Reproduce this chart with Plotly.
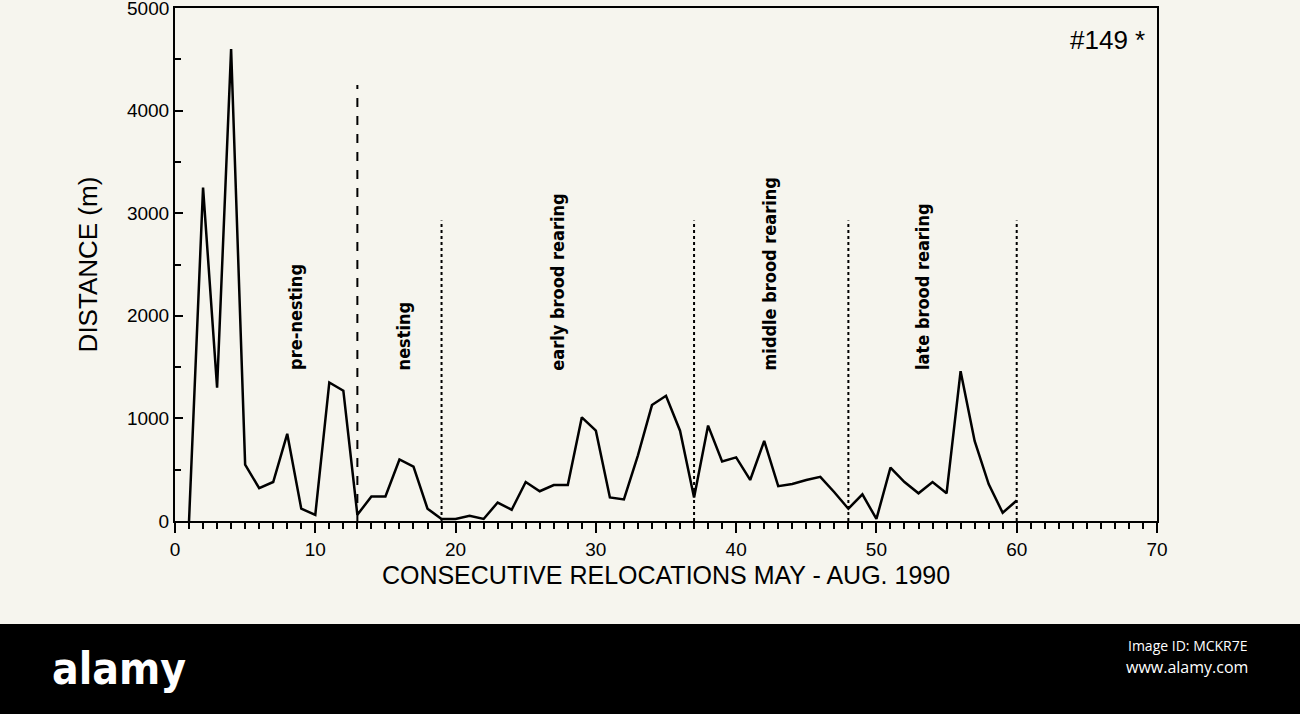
import plotly.graph_objects as go

# consecutive relocations 1..60, distance moved (m)
relocation = list(range(1, 61))
distance = [0, 3250, 1300, 4600, 550, 320, 380, 850, 120, 60,
            1350, 1270, 60, 240, 240, 600, 530, 120, 20, 20,
            50, 20, 180, 110, 380, 290, 350, 350, 1010, 880,
            230, 210, 640, 1130, 1220, 880, 230, 930, 580, 620,
            400, 780, 340, 360, 400, 430, 280, 120, 260, 20,
            520, 380, 270, 380, 270, 1460, 780, 360, 80, 200]

# period boundaries
dashed_at = [13]
dotted_at = [19, 37, 48, 60]
period_names = ["pre-nesting", "nesting", "early brood rearing",
                "middle brood rearing", "late brood rearing"]
period_x = [8.6, 16.3, 27.3, 42.4, 53.3]

BG = "#f6f5ee"

fig = go.Figure()
fig.add_trace(go.Scatter(x=relocation, y=distance, mode="lines",
                         line=dict(color="black", width=2.5),
                         showlegend=False, hoverinfo="skip"))

for x in dashed_at:
    fig.add_shape(type="line", x0=x, x1=x, y0=0, y1=4250,
                  line=dict(color="black", width=2, dash="dash"))
for x in dotted_at:
    fig.add_shape(type="line", x0=x, x1=x, y0=0, y1=2930,
                  line=dict(color="black", width=2, dash="dot"))

for name, x in zip(period_names, period_x):
    fig.add_annotation(x=x, y=1450, text="<b>" + name + "</b>", textangle=-90, showarrow=False,
                       yanchor="bottom", font=dict(size=18, color="black",
                                                   family="DejaVu Sans Condensed, DejaVu Sans"))

# top tick label sits on the page edge, plotly drops it, so write it by hand
fig.add_annotation(x=0, y=5000, xref="paper", text="5000", showarrow=False,
                   xanchor="right", xshift=-4, font=dict(size=19, color="black"))

fig.add_annotation(x=0.99, y=0.97, xref="paper", yref="paper", text="#149 *",
                   showarrow=False, xanchor="right", yanchor="top",
                   font=dict(size=26, color="black"))

# watermark strip at the bottom (plot area 513 px tall, 982 px wide)
fig.add_shape(type="rect", xref="paper", yref="paper", x0=-0.25, x1=1.25,
              y0=-0.2008, y1=-0.45, fillcolor="black", line_width=0, layer="above")
fig.add_annotation(x=-0.127, y=-0.287, xref="paper", yref="paper", text="<b>alamy</b>",
                   showarrow=False, xanchor="left", yanchor="middle",
                   font=dict(size=44, color="white", family="Liberation Sans Narrow, DejaVu Sans Condensed"))
fig.add_annotation(x=1.095, y=-0.265, xref="paper", yref="paper", text="Image ID: MCKR7E",
                   showarrow=False, xanchor="right",
                   font=dict(size=14, color="white", family="Open Sans"))
fig.add_annotation(x=1.095, y=-0.31, xref="paper", yref="paper", text="www.alamy.com",
                   showarrow=False, xanchor="right",
                   font=dict(size=16, color="white", family="Open Sans"))

fig.update_layout(
    width=1300, height=714,
    margin=dict(l=175, r=143, t=8, b=193, autoexpand=False),
    paper_bgcolor=BG, plot_bgcolor=BG,
    font=dict(family="Liberation Sans, Arial", color="black", size=19),
    xaxis=dict(range=[0, 70], dtick=10, ticks="outside", ticklen=10, tickwidth=2,
               minor=dict(dtick=1, ticks="outside", ticklen=6, tickwidth=2, tickcolor="black"),
               showline=True, linecolor="black", linewidth=2, mirror=True,
               showgrid=False, zeroline=False, tickcolor="black", automargin=False,
               title=dict(text="CONSECUTIVE RELOCATIONS MAY - AUG. 1990",
                          font=dict(size=25), standoff=8)),
    yaxis=dict(range=[0, 5000], dtick=1000, ticks="inside", ticklen=8, tickwidth=2,
               minor=dict(dtick=500, ticks="inside", ticklen=6, tickwidth=2, tickcolor="black"),
               showline=True, linecolor="black", linewidth=2, mirror=True,
               showgrid=False, zeroline=False, tickcolor="black", automargin=False,
               title=dict(text="DISTANCE (m)", font=dict(size=26), standoff=22)),
)

fig.write_html("out.html", config={"displayModeBar": False},
               post_script="document.body.style.margin='0';")
